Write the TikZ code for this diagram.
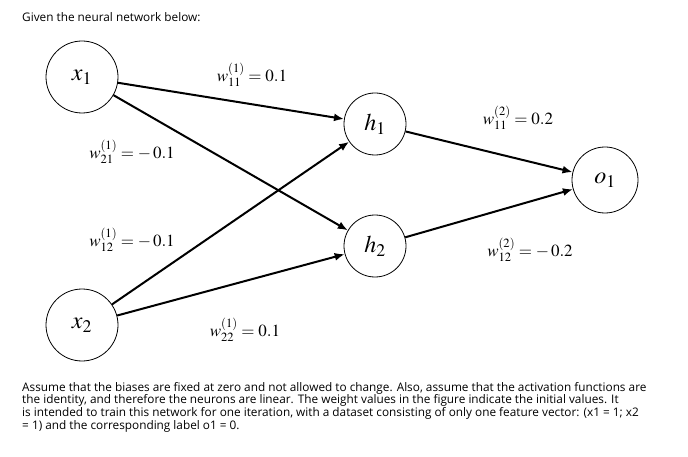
\documentclass[tikz,border=0pt]{standalone}
\usepackage{mathptmx}
\usepackage{fontspec}
\setmainfont{Liberation Serif}
\newfontfamily\capfont{Open Sans}
\usetikzlibrary{arrows.meta}
\begin{document}
\begin{tikzpicture}[x=1pt,y=-1pt,
  neuron/.style={draw,circle,minimum size=#1,inner sep=0pt,line width=0.8pt,font=\fontsize{24}{24}\selectfont},
  conn/.style={-{Latex[length=10pt,width=8pt]},line width=2pt},
  wl/.style={font=\fontsize{17}{17}\selectfont},
  captext/.style={font=\capfont\fontsize{11.8}{12.6}\selectfont,anchor=north west,inner sep=0pt,align=left}]
\useasboundingbox (0,0) rectangle (688,457);
\node[captext] (t) at (22,12) {Given the neural network below:};
\node[neuron=72pt] (x1) at (82,77) {$x_1$};
\node[neuron=72pt] (x2) at (82,325) {$x_2$};
\node[neuron=62pt] (h1) at (375,124) {$h_1$};
\node[neuron=62pt] (h2) at (375,246) {$h_2$};
\node[neuron=66pt] (o1) at (605,180) {$o_1$};
\draw[conn] (x1) -- (h1);
\draw[conn] (x1) -- (h2);
\draw[conn] (x2) -- (h1);
\draw[conn] (x2) -- (h2);
\draw[conn] (h1) -- (o1);
\draw[conn] (h2) -- (o1);
\node[wl] (l1) at (252,75) {$w^{(1)}_{11} = 0.1$};
\node[wl] (l2) at (132,152) {$w^{(1)}_{21} = -\,0.1$};
\node[wl] (l3) at (132,240) {$w^{(1)}_{12} = -\,0.1$};
\node[wl] (l4) at (245,330) {$w^{(1)}_{22} = 0.1$};
\node[wl] (l5) at (518,118) {$w^{(2)}_{11} = 0.2$};
\node[wl] (l6) at (530,250) {$w^{(2)}_{12} = -\,0.2$};
\node[captext] (p) at (22,382) {Assume that the biases are fixed at zero and not allowed to change. Also, assume that the activation functions are\\
the identity, and therefore the neurons are linear. The weight values in the figure indicate the initial values. It\\
is intended to train this network for one iteration, with a dataset consisting of only one feature vector: (x1 = 1; x2\\
= 1) and the corresponding label o1 = 0.};
\end{tikzpicture}
\end{document}
